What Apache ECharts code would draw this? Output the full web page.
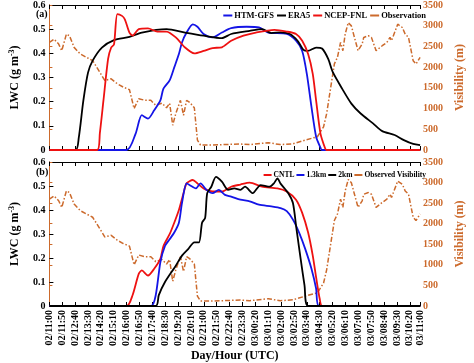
<!DOCTYPE html>
<html><head><meta charset="utf-8">
<script src="https://cdn.jsdelivr.net/npm/echarts@6/dist/echarts.min.js"></script>
<style>html,body{margin:0;padding:0;background:#fff}#c{width:474px;height:363px}</style>
</head><body><div id="c"></div>
<script>
// x values: minutes after 02/11:00 UTC
const htmGfs = [[0,0],[300,0],[335,0.068],[359,0.144],[383,0.13],[407,0.164],[431,0.205],[443,0.254],[467,0.288],[485,0.342],[503,0.397],[515,0.445],[533,0.486],[557,0.52],[575,0.51],[599,0.48],[634,0.466],[670,0.486],[706,0.504],[766,0.51],[814,0.507],[850,0.486],[922,0.48],[958,0.452],[982,0.41],[1000,0.315],[1018,0.178],[1036,0.055],[1053,0.01],[1058,0],[1440,0]];
const era5 = [[0,0],[102,0],[114,0.05],[132,0.205],[150,0.32],[168,0.37],[204,0.424],[251,0.455],[311,0.468],[359,0.486],[455,0.5],[527,0.486],[599,0.473],[670,0.463],[706,0.48],[778,0.493],[826,0.5],[862,0.484],[898,0.487],[934,0.48],[964,0.452],[987,0.414],[1004,0.41],[1036,0.424],[1059,0.42],[1083,0.377],[1101,0.322],[1137,0.254],[1173,0.192],[1209,0.151],[1257,0.11],[1293,0.078],[1341,0.062],[1377,0.041],[1413,0.025],[1440,0.02]];
const ncepFnl = [[0,0],[186,0],[196,0.07],[210,0.205],[228,0.377],[240,0.424],[251,0.437],[264,0.562],[282,0.555],[293,0.541],[311,0.486],[323,0.473],[347,0.5],[383,0.503],[419,0.49],[455,0.49],[491,0.466],[527,0.424],[563,0.4],[599,0.41],[634,0.422],[670,0.425],[706,0.452],[754,0.473],[802,0.486],[874,0.497],[922,0.49],[958,0.48],[982,0.452],[1005,0.397],[1023,0.315],[1036,0.205],[1053,0.068],[1071,0.007],[1076,0],[1440,0]];
const cntl = [[0,0],[300,0],[323,0.045],[347,0.134],[359,0.148],[383,0.127],[407,0.155],[431,0.196],[443,0.25],[467,0.299],[485,0.347],[503,0.4],[521,0.47],[533,0.511],[557,0.525],[575,0.511],[599,0.49],[634,0.477],[670,0.477],[706,0.497],[742,0.506],[778,0.514],[826,0.497],[886,0.49],[922,0.477],[958,0.443],[982,0.388],[1005,0.306],[1023,0.21],[1036,0.12],[1050,0.03],[1060,0],[1440,0]];
const km13 = [[0,0],[395,0],[413,0.045],[431,0.182],[449,0.25],[467,0.278],[485,0.306],[503,0.347],[515,0.429],[533,0.511],[551,0.5],[569,0.49],[587,0.511],[610,0.484],[634,0.47],[658,0.484],[682,0.463],[706,0.456],[742,0.443],[778,0.436],[814,0.422],[862,0.415],[898,0.408],[922,0.395],[946,0.36],[970,0.306],[994,0.237],[1018,0.155],[1036,0.073],[1047,0],[1440,0]];
const km2 = [[0,0],[413,0],[425,0.045],[449,0.1],[491,0.168],[515,0.21],[539,0.237],[563,0.265],[581,0.265],[593,0.347],[605,0.367],[613,0.47],[629,0.497],[647,0.538],[670,0.518],[694,0.484],[718,0.49],[742,0.484],[760,0.497],[790,0.47],[820,0.504],[856,0.497],[872,0.511],[886,0.532],[898,0.51],[928,0.47],[946,0.429],[960,0.319],[976,0.196],[991,0.086],[1005,0],[1440,0]];
const visObs = [[0,2596],[18,2677],[36,2557],[48,2397],[66,2797],[78,2757],[96,2477],[120,2317],[144,2237],[168,2157],[192,1918],[215,1678],[240,1718],[264,1598],[287,1518],[311,1455],[329,1000],[347,1239],[371,1199],[394,1199],[413,1079],[437,1130],[455,1019],[467,1130],[479,599],[491,879],[509,1199],[521,839],[533,1199],[545,1150],[563,1019],[575,240],[587,120],[623,120],[742,144],[778,130],[850,176],[897,130],[946,150],[994,240],[1041,320],[1065,559],[1077,879],[1089,1359],[1107,2078],[1119,2237],[1131,2597],[1140,2397],[1149,2797],[1161,3076],[1173,2996],[1185,2717],[1199,2397],[1215,2557],[1221,2717],[1239,2757],[1251,2717],[1269,2397],[1293,2517],[1311,2597],[1323,2717],[1329,2637],[1353,3036],[1371,2957],[1382,2797],[1395,2717],[1413,2157],[1424,2077],[1440,2237]];

const FONT = 'Liberation Serif';
const ORANGE = '#cc6a2c';
const BLUE = '#1414e6', RED = '#ee1111', BLACK = '#000';

function fmtTime(m) {
  const t = 660 + m;
  const d = 2 + Math.floor(t / 1440);
  const r = t % 1440;
  const h = Math.floor(r / 60), mm = r % 60;
  const p = n => (n < 10 ? '0' : '') + n;
  return p(d) + '/' + p(h) + ':' + p(mm);
}

const grids = [
  {left: 33, right: 40, top: 4, height: 146},
  {left: 33, right: 40, top: 162, height: 146}
];

function xAxes(gi, showLabels) {
  return [{
    type: 'value', gridIndex: gi, min: 0, max: 1440, interval: 50, position: 'bottom',
    axisLine: {show: true, onZero: false, lineStyle: {color: '#000', width: 1}},
    axisTick: {show: true, inside: true, length: 4, lineStyle: {color: '#000'}},
    splitLine: {show: false},
    axisLabel: {show: showLabels, rotate: 90, formatter: v => fmtTime(v), showMaxLabel: true, showMinLabel: true,
      fontFamily: FONT, fontWeight: 'bold', fontSize: 10, color: '#000', margin: 4},
    name: showLabels ? 'Day/Hour (UTC)' : '', nameLocation: 'middle', nameGap: 40,
    nameTextStyle: {fontFamily: FONT, fontWeight: 'bold', fontSize: 12, color: '#000'}
  }, {
    type: 'value', gridIndex: gi, min: 0, max: 1440, interval: 50, position: 'top',
    axisLine: {show: true, onZero: false, lineStyle: {color: '#000', width: 1}},
    axisTick: {show: true, inside: true, length: 4, lineStyle: {color: '#000'}},
    splitLine: {show: false}, axisLabel: {show: false}
  }];
}

function yAxes(gi) {
  return [{
    type: 'value', gridIndex: gi, min: 0, max: 0.6, interval: 0.1, position: 'left',
    axisLine: {show: true, lineStyle: {color: '#000'}},
    axisTick: {show: true, inside: true, length: 4, lineStyle: {color: '#000'}},
    splitLine: {show: false},
    axisLabel: {fontFamily: FONT, fontWeight: 'bold', fontSize: 10, color: '#000', margin: 4,
      formatter: v => v === 0 ? '0' : v.toFixed(1)},
    name: '{a|LWC (g m}{s|-3}{a|)}', nameLocation: 'middle', nameGap: 18, nameRotate: 90,
    nameTextStyle: {rich: {
      a: {fontFamily: FONT, fontWeight: 'bold', fontSize: 12, color: '#000', lineHeight: 14},
      s: {fontFamily: FONT, fontWeight: 'bold', fontSize: 8, color: '#000', verticalAlign: 'top', lineHeight: 14, padding: [0,0,6,0]}
    }}
  }, {
    type: 'value', gridIndex: gi, min: 0, max: 3500, interval: 500, position: 'right',
    axisLine: {show: true, lineStyle: {color: ORANGE}},
    axisTick: {show: true, inside: false, length: 3, lineStyle: {color: ORANGE}},
    splitLine: {show: false},
    axisLabel: {fontFamily: FONT, fontWeight: 'bold', fontSize: 10, color: ORANGE, margin: 3,
      formatter: v => String(v)},
    name: 'Visibility (m)', nameLocation: 'middle', nameGap: 28, nameRotate: 90,
    nameTextStyle: {fontFamily: FONT, fontWeight: 'bold', fontSize: 12, color: ORANGE}
  }];
}

function line(name, data, color, xi, yi, extra) {
  return Object.assign({
    name, type: 'line', data, xAxisIndex: xi, yAxisIndex: yi, showSymbol: false, symbol: 'none',
    smooth: 0.25, lineStyle: {color, width: 1.8}, itemStyle: {color}, animation: false, z: 3
  }, extra || {});
}
const dashDot = {smooth: false, lineStyle: {color: ORANGE, width: 1.5, type: [5, 2, 1.5, 2]}, itemStyle: {color: ORANGE}, z: 2};

const chart = echarts.init(document.getElementById('c'), null, {renderer: 'canvas'});
chart.setOption({
  animation: false,
  backgroundColor: '#fff',
  grid: grids,
  xAxis: [...xAxes(0, false), ...xAxes(1, true)],
  yAxis: [...yAxes(0), ...yAxes(1)],
  legend: [{
    data: ['HTM-GFS', 'ERA5', 'NCEP-FNL', 'Observation'], right: 43, top: 6, icon: 'rect',
    itemWidth: 9, itemHeight: 2, itemGap: 3,
    textStyle: {fontFamily: FONT, fontWeight: 'bold', fontSize: 8.5, color: '#000', padding: [0,0,0,-3]}
  }, {
    data: ['CNTL', '1.3km', '2km', 'Observed Visibility'], right: 43, top: 166, icon: 'rect',
    itemWidth: 8, itemHeight: 2, itemGap: 2,
    textStyle: {fontFamily: FONT, fontWeight: 'bold', fontSize: 7.5, color: '#000', padding: [0,0,0,-3]}
  }],
  graphic: [
    {type: 'text', left: 36, top: 9, style: {text: '(a)', fontFamily: FONT, fontWeight: 'bold', fontSize: 10, fill: '#000'}},
    {type: 'text', left: 36, top: 167, style: {text: '(b)', fontFamily: FONT, fontWeight: 'bold', fontSize: 10, fill: '#000'}}
  ],
  series: [
    line('HTM-GFS', htmGfs, BLUE, 0, 0),
    line('ERA5', era5, BLACK, 0, 0),
    line('NCEP-FNL', ncepFnl, RED, 0, 0),
    line('Observation', visObs, ORANGE, 0, 1, dashDot),
    line('CNTL', cntl, RED, 2, 2),
    line('1.3km', km13, BLUE, 2, 2),
    line('2km', km2, BLACK, 2, 2),
    line('Observed Visibility', visObs, ORANGE, 2, 3, dashDot)
  ]
});
</script></body></html>
